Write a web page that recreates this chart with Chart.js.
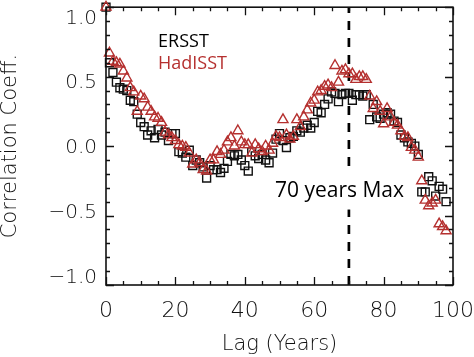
<!DOCTYPE html>
<html>
<head>
<meta charset="utf-8">
<script src="https://cdn.jsdelivr.net/npm/chart.js@4.4.1/dist/chart.umd.min.js"></script>
<style>
html,body{margin:0;padding:0;background:#fff;}
canvas{display:block;}
</style>
</head>
<body>
<canvas id="c" width="474" height="357"></canvas>
<script>
// ---- data ----
const lags = [0,1,2,3,4,5,6,7,8,9,10,11,12,13,14,15,16,17,18,19,20,21,22,23,24,25,26,27,28,29,30,31,32,33,34,35,36,37,38,39,40,41,42,43,44,45,46,47,48,49,50,51,52,53,54,55,56,57,58,59,60,61,62,63,64,65,66,67,68,69,70,71,72,73,74,75,76,77,78,79,80,81,82,83,84,85,86,87,88,89,90,91,92,93,94,95,96,97,98];
const ersst = [
 1.00, 0.60, 0.53, 0.46, 0.42, 0.41, 0.40, 0.33, 0.32, 0.23,
 0.17, 0.14, 0.08, 0.11, 0.06, 0.12, 0.08, 0.10, 0.04, 0.09,
 0.09,-0.04,-0.05,-0.08,-0.03,-0.14,-0.10,-0.12,-0.15,-0.23,
-0.14,-0.17,-0.17,-0.19,-0.16,-0.11,-0.06,-0.07,-0.06,-0.10,
-0.14,-0.18,-0.04,-0.07,-0.09,-0.06,-0.10,-0.12,-0.05, 0.05,
 0.09, 0.04,-0.01, 0.06, 0.07, 0.11, 0.10, 0.13, 0.15, 0.13,
 0.17, 0.25, 0.24, 0.30, 0.34, 0.39, 0.38, 0.32, 0.37, 0.38,
 0.38, 0.33, 0.37, 0.37, 0.36, 0.37, 0.19, 0.30, 0.21, 0.20,
 0.23, 0.24, 0.23, 0.18, 0.17, 0.08, 0.06, 0.03, 0.02, 0.00,
-0.06,-0.33,-0.33,-0.22,-0.25,-0.36,-0.29,-0.31,-0.40];
const hadisst = [
 1.00, 0.67, 0.61, 0.60, 0.59, 0.54, 0.49, 0.42, 0.39, 0.25,
 0.36, 0.34, 0.28, 0.25, 0.21, 0.20, 0.17, 0.10, 0.08, 0.06,
 0.04, 0.01, 0.00,-0.01,-0.05,-0.13,-0.10,-0.12,-0.17,-0.18,
-0.10,-0.10,-0.04,-0.06,-0.03, 0.03, 0.06, 0.00, 0.11, 0.03,
 0.01, 0.01,-0.05, 0.01,-0.02,-0.04, 0.00,-0.03, 0.02, 0.07,
 0.06, 0.19, 0.08, 0.05, 0.07, 0.19, 0.14, 0.21, 0.26, 0.31,
 0.33, 0.39, 0.40, 0.43, 0.44, 0.42, 0.58, 0.46, 0.54, 0.55,
 0.52, 0.52, 0.48, 0.50, 0.50, 0.48, 0.36, 0.27, 0.32, 0.25,
 0.16, 0.27, 0.21, 0.17, 0.15, 0.11, 0.07, 0.06,-0.01,-0.03,
-0.08,-0.25,-0.39,-0.43,-0.41,-0.39,-0.56,-0.58,-0.61];
const seriesNames = ['ERSST', 'HadISST'];
const maxLag = [70];
const maxLabel = '70 years Max';
const xTickLabels = [0, 20, 40, 60, 80, 100];
const yTickLabels = [-1.0, -0.5, 0.0, 0.5, 1.0];

// ---- styling ----
const RED = '#b5302f';
const axisFont = "'DejaVu Sans'";
// the reference prints its y labels on a slightly compressed scale
const labelAxisRange = {min: -1.0555, max: 1.086};

const pts = (ys) => lags.map((l, i) => ({x: l, y: ys[i]}));

// text annotations placed in data coordinates
const notes = [
  {text: seriesNames[0], x: 15, y: 0.75, color: '#000', font: "18px 'Open Sans'"},
  {text: seriesNames[1], x: 15, y: 0.593, color: RED, font: "18px 'Open Sans'"},
  {text: maxLabel, x: 48.7, y: -0.32, color: '#000', font: "21px 'Open Sans'", box: true}
];

const framePlugin = {
  id: 'frame',
  afterDatasetsDraw(chart) {
    const {ctx, chartArea: a, scales: {x, y}} = chart;
    ctx.save();
    ctx.textBaseline = 'middle';
    ctx.textAlign = 'left';
    notes.forEach(n => {
      ctx.font = n.font;
      const px = x.getPixelForValue(n.x), py = y.getPixelForValue(n.y);
      if (n.box) {
        const w = ctx.measureText(n.text).width;
        ctx.fillStyle = '#fff';
        ctx.fillRect(px - 3, py - 17, w + 6, 36);
      }
      ctx.fillStyle = n.color;
      ctx.fillText(n.text, px, py);
    });
    ctx.strokeStyle = '#111';
    ctx.lineWidth = 1.6;
    ctx.strokeRect(a.left, a.top, a.right - a.left, a.bottom - a.top);
    ctx.lineWidth = 1.3;
    ctx.beginPath();
    for (let v = 0; v <= 100; v += 5) {
      const px = Math.round(x.getPixelForValue(v)) + 0.5;
      const len = v % 20 === 0 ? 8 : 4;
      ctx.moveTo(px, a.bottom); ctx.lineTo(px, a.bottom - len);
      ctx.moveTo(px, a.top); ctx.lineTo(px, a.top + len);
    }
    for (let i = -10; i <= 10; i++) {
      const py = Math.round(y.getPixelForValue(i / 10)) + 0.5;
      const len = i % 5 === 0 ? 8 : 4;
      ctx.moveTo(a.left, py); ctx.lineTo(a.left + len, py);
      ctx.moveTo(a.right, py); ctx.lineTo(a.right - len, py);
    }
    ctx.stroke();
    ctx.restore();
  }
};

new Chart(document.getElementById('c'), {
  type: 'scatter',
  data: {
    datasets: [
      {
        label: seriesNames[1], data: pts(hadisst), yAxisID: 'y',
        pointStyle: 'triangle', pointRadius: 5.8, borderColor: RED,
        backgroundColor: 'rgba(0,0,0,0)', borderWidth: 1.4, clip: false
      },
      {
        label: seriesNames[0], data: pts(ersst), yAxisID: 'y',
        pointStyle: 'rect', pointRadius: 5.6, borderColor: '#111',
        backgroundColor: 'rgba(0,0,0,0)', borderWidth: 1.4, clip: false
      },
      {
        type: 'line', label: 'max', yAxisID: 'y',
        data: [{x: maxLag[0], y: -1}, {x: maxLag[0], y: 1}],
        borderColor: '#000', borderWidth: 2.7, borderDash: [9, 8],
        pointRadius: 0, showLine: true, fill: false
      }
    ]
  },
  options: {
    responsive: false,
    animation: false,
    devicePixelRatio: 1,
    layout: {padding: {top: 5, right: 21, left: 0, bottom: 0}},
    plugins: {legend: {display: false}, tooltip: {enabled: false}},
    scales: {
      x: {
        type: 'linear', min: 0, max: 100,
        grid: {display: false, drawTicks: false},
        border: {display: false},
        afterBuildTicks: (s) => { s.ticks = xTickLabels.map(v => ({value: v})); },
        ticks: {
          autoSkip: false, maxRotation: 0, padding: 13, color: '#111',
          font: {family: axisFont, size: 22, weight: '200'},
          callback: (v) => String(v)
        },
        title: {
          display: true, text: 'Lag (Years)', color: '#111', padding: 0,
          font: {family: axisFont, size: 21, weight: '200', lineHeight: 1.2}
        },
        afterFit: (s) => { s.height = 72; s.paddingLeft = 0; s.paddingRight = 0; }
      },
      y: {
        type: 'linear', min: -1, max: 1, display: false, position: 'left'
      },
      yl: {
        type: 'linear', position: 'left', min: labelAxisRange.min, max: labelAxisRange.max,
        grid: {display: false, drawTicks: false},
        border: {display: false},
        afterBuildTicks: (s) => { s.ticks = yTickLabels.map(v => ({value: v})); },
        ticks: {
          autoSkip: false, padding: 9, color: '#111',
          font: {family: axisFont, size: 20, weight: '200'},
          callback: (v) => v.toFixed(1).replace('-', '\u2212')
        },
        title: {
          display: true, text: 'Correlation Coeff.', color: '#111', padding: 0,
          font: {family: axisFont, size: 21, weight: '200', lineHeight: 1.0}
        },
        afterFit: (s) => { s.width = 106; s.paddingTop = 0; s.paddingBottom = 0; }
      }
    }
  },
  plugins: [framePlugin]
});
</script>
</body>
</html>
